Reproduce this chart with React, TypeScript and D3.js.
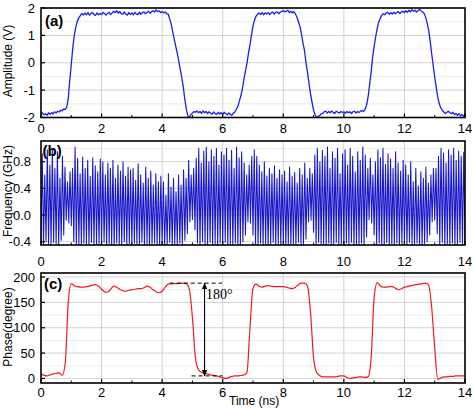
import { useRef, useEffect } from "react";
import * as d3 from "d3";

const width = 474;
const height = 408;

const timeTicks = [0, 2, 4, 6, 8, 10, 12, 14];
const timeMinor = [1, 3, 5, 7, 9, 11, 13];
const ampTicks = [-2, -1, 0, 1, 2];
const ampMinor = [-1.5, -0.5, 0.5, 1.5];
const freqTicks = [-0.4, 0.0, 0.4, 0.8];
const freqMinor = [-0.2, 0.2, 0.6, 1.0];
const phaseTicks = [0, 50, 100, 150, 200];
const phaseMinor = [25, 75, 125, 175];

// amplitude (V), one sample every 0.05 ns, one row per ns
const ampStep = 0.05;
const amplitude = [
  -1.78, -1.84, -1.9, -1.86, -1.92, -1.83, -1.88, -1.82, -1.87, -1.79, -1.84, -1.77, -1.8, -1.73, -1.76, -1.69, -1.7, -1.63, -1.3, -0.65,
  -0.05, 0.55, 1.0, 1.3, 1.52, 1.64, 1.72, 1.8, 1.74, 1.82, 1.75, 1.83, 1.74, 1.8, 1.84, 1.76, 1.73, 1.82, 1.75, 1.8,
  1.76, 1.84, 1.79, 1.74, 1.81, 1.84, 1.76, 1.82, 1.88, 1.83, 1.9, 1.81, 1.87, 1.8, 1.77, 1.86, 1.78, 1.74, 1.83, 1.76,
  1.82, 1.75, 1.84, 1.78, 1.76, 1.85, 1.77, 1.83, 1.86, 1.79, 1.84, 1.88, 1.81, 1.87, 1.9, 1.85, 1.93, 1.87, 1.89, 1.83,
  1.87, 1.82, 1.86, 1.79, 1.78, 1.6, 1.4, 1.12, 0.85, 0.6, 0.35, 0.05, -0.25, -0.55, -0.9, -1.35, -1.7, -1.95, -1.99, -1.9,
  -1.84, -1.78, -1.81, -1.76, -1.83, -1.78, -1.85, -1.76, -1.83, -1.78, -1.86, -1.79, -1.84, -1.88, -1.8, -1.86, -1.89, -1.81, -1.87, -1.82,
  -1.88, -1.81, -1.86, -1.9, -1.83, -1.89, -1.92, -1.84, -1.8, -1.7, -1.6, -1.4, -1.2, -0.95, -0.6, -0.3, -0.03, 0.35, 0.65, 1.0,
  1.35, 1.55, 1.7, 1.77, 1.82, 1.76, 1.83, 1.75, 1.82, 1.78, 1.84, 1.76, 1.82, 1.85, 1.78, 1.84, 1.86, 1.79, 1.85, 1.87,
  1.91, 1.86, 1.88, 1.92, 1.83, 1.88, 1.82, 1.87, 1.78, 1.67, 1.5, 1.33, 1.05, 0.72, 0.45, 0.0, -0.35, -0.75, -1.15, -1.45,
  -1.73, -1.9, -2.0, -1.96, -1.93, -1.87, -1.85, -1.79, -1.77, -1.84, -1.78, -1.83, -1.76, -1.82, -1.85, -1.77, -1.81, -1.84, -1.78, -1.82,
  -1.79, -1.85, -1.78, -1.83, -1.79, -1.86, -1.79, -1.77, -1.84, -1.78, -1.82, -1.77, -1.75, -1.78, -1.7, -1.55, -1.25, -0.8, -0.35, 0.2,
  0.6, 0.95, 1.25, 1.48, 1.62, 1.73, 1.79, 1.75, 1.82, 1.84, 1.77, 1.83, 1.78, 1.85, 1.79, 1.84, 1.87, 1.8, 1.86, 1.88,
  1.83, 1.9, 1.84, 1.92, 1.86, 1.94, 1.88, 1.92, 1.85, 1.9, 1.95, 1.89, 1.86, 1.8, 1.67, 1.45, 1.19, 0.8, 0.33, -0.1,
  -0.52, -0.9, -1.25, -1.5, -1.65, -1.73, -1.8, -1.86, -1.81, -1.77, -1.82, -1.86, -1.81, -1.9, -1.85, -1.92, -1.86, -1.94, -1.89, -1.95,
  -1.9,
];

// instantaneous frequency (GHz): maximum and minimum of each cycle, 12 cycles per ns
const cyclesPerNs = 12;
const freqPeaks = [
  0.92, 0.6, 0.98, 0.75, 1.0, 0.7, 0.95, 0.55, 0.88, 0.72, 0.5, 0.65,
  0.7, 1.02, 0.85, 0.62, 0.87, 0.7, 0.82, 0.58, 0.86, 0.74, 0.65, 0.84,
  0.8, 0.6, 0.78, 0.7, 0.82, 0.55, 0.75, 0.66, 0.8, 0.58, 0.72, 0.68,
  0.7, 0.52, 0.77, 0.6, 0.48, 0.72, 0.55, 0.66, 0.45, 0.62, 0.5, 0.58,
  0.5, 0.3, 0.62, 0.42, 0.55, 0.35, 0.6, 0.45, 0.68, 0.55, 0.82, 0.6,
  0.7, 0.85, 1.0, 0.78, 0.96, 1.02, 0.8, 0.98, 0.88, 1.0, 0.75, 0.95,
  0.9, 1.0, 0.82, 0.97, 0.7, 1.02, 0.86, 0.95, 0.78, 0.6, 0.75, 0.88,
  0.98, 0.88, 0.75, 0.65, 0.8, 0.58, 0.7, 0.62, 0.74, 0.55, 0.68, 0.6,
  0.66, 0.5, 0.72, 0.58, 0.64, 0.48, 0.7, 0.6, 0.78, 0.55, 0.7, 0.62,
  0.9, 1.0, 0.8, 0.97, 0.88, 1.02, 0.7, 0.95, 0.85, 1.0, 0.62, 0.92,
  0.98, 0.75, 1.0, 0.88, 0.65, 0.95, 0.82, 1.02, 0.9, 0.7, 0.85, 0.6,
  0.8, 0.98, 0.86, 1.0, 0.76, 0.92, 0.84, 0.7, 0.95, 0.78, 0.66, 0.82,
  0.75, 0.6, 0.8, 0.5, 0.7, 0.44, 0.65, 0.55, 0.72, 0.48, 0.6, 0.7,
  0.7, 0.88, 1.0, 0.93, 0.78, 0.98, 0.9, 1.0, 0.82, 0.96, 0.88, 0.94,
];
const freqTroughs = [
  -0.42, -0.45, -0.4, -0.44, -0.46, -0.41, -0.43, -0.45, -0.38, -0.3, -0.08, -0.12,
  -0.16, -0.4, -0.45, -0.43, -0.46, -0.42, -0.44, -0.47, -0.41, -0.45, -0.43, -0.46,
  -0.44, -0.41, -0.46, -0.43, -0.45, -0.48, -0.42, -0.44, -0.46, -0.4, -0.45, -0.43,
  -0.46, -0.42, -0.44, -0.47, -0.41, -0.45, -0.43, -0.48, -0.44, -0.42, -0.46, -0.45,
  -0.43, -0.47, -0.44, -0.41, -0.46, -0.43, -0.45, -0.42, -0.44, -0.38, -0.28, -0.1,
  -0.07, -0.22, -0.42, -0.45, -0.4, -0.44, -0.46, -0.41, -0.45, -0.43, -0.47, -0.42,
  -0.44, -0.41, -0.46, -0.43, -0.45, -0.42, -0.47, -0.44, -0.4, -0.3, -0.1, -0.12,
  -0.3, -0.44, -0.46, -0.42, -0.45, -0.43, -0.47, -0.44, -0.41, -0.46, -0.43, -0.45,
  -0.42, -0.46, -0.44, -0.47, -0.43, -0.45, -0.41, -0.44, -0.46, -0.36, -0.1, -0.08,
  -0.26, -0.44, -0.41, -0.46, -0.43, -0.45, -0.42, -0.47, -0.44, -0.41, -0.45, -0.43,
  -0.46, -0.42, -0.44, -0.41, -0.47, -0.43, -0.45, -0.42, -0.46, -0.33, -0.07, -0.12,
  -0.3, -0.45, -0.42, -0.46, -0.44, -0.41, -0.47, -0.43, -0.45, -0.42, -0.48, -0.44,
  -0.43, -0.46, -0.41, -0.45, -0.47, -0.42, -0.44, -0.46, -0.43, -0.4, -0.3, -0.1,
  -0.08, -0.28, -0.44, -0.41, -0.46, -0.43, -0.45, -0.42, -0.47, -0.44, -0.41, -0.45,
  -0.43,
];

// phase (degree), one sample every 0.1 ns
const phaseStep = 0.1;
const phase = [
  10, 6, 5, 7, 9, 10, 11, 6, 30, 150,
  187, 183, 181, 180, 180, 181, 182, 184, 185, 182,
  176, 171, 170, 176, 182, 180, 176, 173, 172, 174,
  175, 176, 177, 177, 179, 182, 180, 175, 171, 169,
  172, 180, 186, 187, 187, 187, 188, 188, 187, 175,
  120, 40, 17, 12, 10, 9, 7, 6, 5, 3,
  1, 0, 2, 4, 5, 5, 6, 7, 12, 100,
  178, 186, 182, 180, 182, 183, 182, 181, 181, 181,
  181, 180, 178, 177, 180, 185, 188, 188, 182, 130,
  40, 12, 6, 3, 3, 3, 3, 3, 4, 5,
  5, 2, 0, 1, 2, 3, 3, 2, 3, 40,
  160, 189, 183, 180, 180, 181, 181, 178, 175, 177,
  180, 181, 183, 184, 185, 186, 187, 188, 184, 140,
  60, -2, 1, 3, 3, 4, 4, 5, 5, 5,
  5,
];

// 180° marker on the first falling edge
const markHigh = 188;
const markLow = 5;
const markX = 5.4;
const markTopSpan = [4.25, 5.98];
const markLowSpan = [4.97, 6.0];

const sans = "Arial, 'Liberation Sans', sans-serif";

export default function App() {
  const ref = useRef<SVGSVGElement | null>(null);

  useEffect(() => {
    const svg = d3.select(ref.current);
    svg.selectAll("*").remove();

    const defs = svg.append("defs");
    const marker = defs
      .append("marker")
      .attr("id", "head")
      .attr("viewBox", "0 0 10 10")
      .attr("refX", 9)
      .attr("refY", 5)
      .attr("markerWidth", 6)
      .attr("markerHeight", 6)
      .attr("orient", "auto-start-reverse");
    marker.append("path").attr("d", "M0,1 L10,5 L0,9 Z").attr("fill", "#000");

    const x = d3.scaleLinear().domain([0, 14]).range([41, 465]);

    const ampPts = amplitude.map((v, i) => [i * ampStep, v] as [number, number]);
    const phasePts = phase.map((v, i) => [i * phaseStep, v] as [number, number]);
    const freqPts: [number, number][] = [];
    freqPeaks.forEach((p, i) => {
      freqPts.push([i / cyclesPerNs, freqTroughs[i]]);
      freqPts.push([(i + 0.5) / cyclesPerNs, p]);
    });
    freqPts.push([14, freqTroughs[freqTroughs.length - 1]]);

    const panels = [
      {
        id: "a", top: 8, bottom: 117.5, domain: [-2, 2], ticks: ampTicks, minor: ampMinor,
        fmt: (v: number) => String(v), labelX: 35, tickBase: 133, title: "Amplitude (V)", titleY: 61,
        tag: "(a)", tagX: 45, tagY: 25.5, pts: ampPts, color: "#1e1ee6", sw: 1.3,
        curve: d3.curveLinear,
      },
      {
        id: "b", top: 141, bottom: 245, domain: [-0.45, 1.11], ticks: freqTicks, minor: freqMinor,
        fmt: (v: number) => (v === 0 ? "0.0" : v.toFixed(1)), labelX: 31, tickBase: 266, title: "Frequency (GHz)", titleY: 191,
        tag: "(b)", tagX: 42.5, tagY: 155.5, pts: freqPts, color: "#1818c8", sw: 1.05,
        curve: d3.curveLinear,
      },
      {
        id: "c", top: 273, bottom: 383, domain: [-9, 208], ticks: phaseTicks, minor: phaseMinor,
        fmt: (v: number) => String(v), labelX: 35, tickBase: 397, title: "Phase(degree)", titleY: 327,
        tag: "(c)", tagX: 44, tagY: 289, pts: phasePts, color: "#ee1c24", sw: 1.2,
        curve: d3.curveMonotoneX,
      },
    ];

    panels.forEach((p) => {
      const y = d3.scaleLinear().domain(p.domain).range([p.bottom, p.top]);
      const g = svg.append("g");

      defs
        .append("clipPath")
        .attr("id", `clip-${p.id}`)
        .append("rect")
        .attr("x", 41)
        .attr("y", p.top)
        .attr("width", 424)
        .attr("height", p.bottom - p.top);

      // grid
      g.selectAll(".hminor")
        .data(p.minor)
        .join("line")
        .attr("x1", 41).attr("x2", 465)
        .attr("y1", (d) => y(d)).attr("y2", (d) => y(d))
        .attr("stroke", "#e6e6e6").attr("stroke-width", 0.8);
      g.selectAll(".hmajor")
        .data(p.ticks)
        .join("line")
        .attr("x1", 41).attr("x2", 465)
        .attr("y1", (d) => y(d)).attr("y2", (d) => y(d))
        .attr("stroke", "#c8c8c8").attr("stroke-width", 0.8);
      g.selectAll(".vmajor")
        .data(timeTicks.slice(1, -1))
        .join("line")
        .attr("x1", (d) => x(d)).attr("x2", (d) => x(d))
        .attr("y1", p.top).attr("y2", p.bottom)
        .attr("stroke", "#c8c8c8").attr("stroke-width", 0.8);

      // data
      const line = d3
        .line<[number, number]>()
        .x((d) => x(d[0]))
        .y((d) => y(d[1]))
        .curve(p.curve);
      g.append("path")
        .datum(p.pts)
        .attr("clip-path", `url(#clip-${p.id})`)
        .attr("fill", "none")
        .attr("stroke", p.color)
        .attr("stroke-width", p.sw)
        .attr("stroke-linejoin", "round")
        .attr("d", line);

      // inward ticks
      g.selectAll(".xt")
        .data(timeTicks)
        .join("line")
        .attr("x1", (d) => x(d)).attr("x2", (d) => x(d))
        .attr("y1", p.bottom).attr("y2", p.bottom - 4)
        .attr("stroke", "#000").attr("stroke-width", 1.2);
      g.selectAll(".xm")
        .data(timeMinor)
        .join("line")
        .attr("x1", (d) => x(d)).attr("x2", (d) => x(d))
        .attr("y1", p.bottom).attr("y2", p.bottom - 2.5)
        .attr("stroke", "#000").attr("stroke-width", 1);
      g.selectAll(".yt")
        .data(p.ticks)
        .join("line")
        .attr("x1", 41).attr("x2", 45)
        .attr("y1", (d) => y(d)).attr("y2", (d) => y(d))
        .attr("stroke", "#000").attr("stroke-width", 1.2);

      // frame
      g.append("rect")
        .attr("x", 41).attr("y", p.top)
        .attr("width", 424).attr("height", p.bottom - p.top)
        .attr("fill", "none").attr("stroke", "#000").attr("stroke-width", 1.6);

      // tick labels
      g.selectAll(".xl")
        .data(timeTicks)
        .join("text")
        .attr("x", (d) => x(d)).attr("y", p.tickBase)
        .attr("text-anchor", "middle")
        .attr("font-family", sans).attr("font-size", 13)
        .text((d) => String(d));
      g.selectAll(".yl")
        .data(p.ticks)
        .join("text")
        .attr("x", p.labelX).attr("y", (d) => y(d))
        .attr("dy", "0.36em")
        .attr("text-anchor", "end")
        .attr("font-family", sans).attr("font-size", 13)
        .text((d) => p.fmt(d));

      // axis title
      g.append("text")
        .attr("transform", `translate(12,${p.titleY}) rotate(-90)`)
        .attr("text-anchor", "middle")
        .attr("font-family", sans).attr("font-size", 12)
        .text(p.title);

      // panel tag
      g.append("text")
        .attr("x", p.tagX).attr("y", p.tagY)
        .attr("font-family", sans).attr("font-size", 15).attr("font-weight", "bold")
        .text(p.tag);

      if (p.id === "c") {
        g.append("line")
          .attr("x1", x(markTopSpan[0])).attr("x2", x(markTopSpan[1]))
          .attr("y1", y(markHigh)).attr("y2", y(markHigh))
          .attr("stroke", "#000").attr("stroke-width", 1).attr("stroke-dasharray", "4,3");
        g.append("line")
          .attr("x1", x(markLowSpan[0])).attr("x2", x(markLowSpan[1]))
          .attr("y1", y(markLow)).attr("y2", y(markLow))
          .attr("stroke", "#000").attr("stroke-width", 1).attr("stroke-dasharray", "4,3");
        g.append("line")
          .attr("x1", x(markX)).attr("x2", x(markX))
          .attr("y1", y(markHigh)).attr("y2", y(markLow))
          .attr("stroke", "#000").attr("stroke-width", 1.1)
          .attr("marker-start", "url(#head)")
          .attr("marker-end", "url(#head)");
        g.append("text")
          .attr("x", x(markX) + 1.5).attr("y", y(markHigh) + 15.5)
          .attr("font-family", "'Times New Roman', 'Liberation Serif', serif")
          .attr("font-size", 14)
          .text("180°");
      }
    });

    svg.append("text")
      .attr("x", 229).attr("y", 404.5)
      .attr("font-family", sans).attr("font-size", 12)
      .text("Time (ns)");
  }, []);

  return (
    <svg
      ref={ref}
      width={width}
      height={height}
      style={{ position: "absolute", left: 0, top: 0, background: "#fff" }}
    />
  );
}
